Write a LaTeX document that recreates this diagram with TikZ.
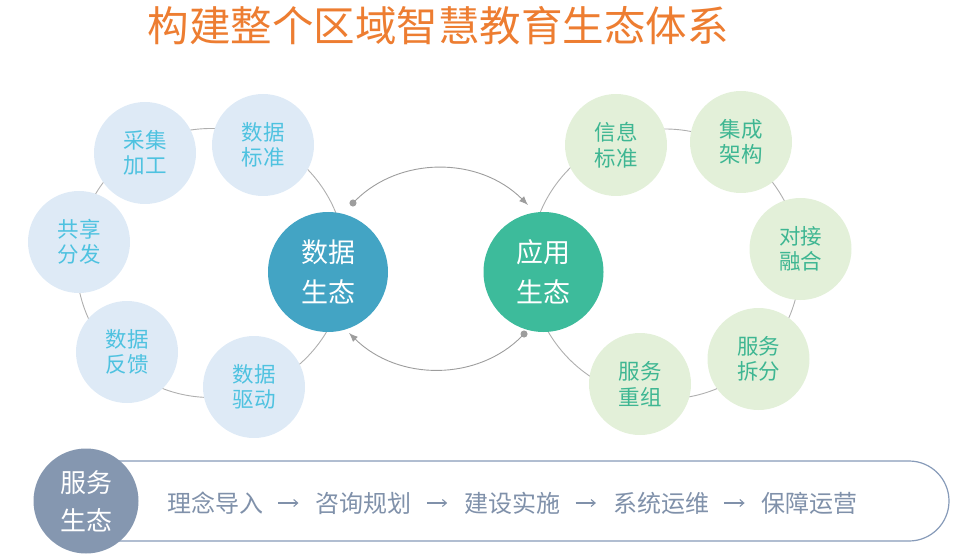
\documentclass[tikz,border=0pt]{standalone}
\usepackage{fontspec}
\setmainfont{Noto Sans CJK SC}
\usetikzlibrary{arrows.meta}

\definecolor{titleorange}{RGB}{237,125,49}
\definecolor{datadark}{RGB}{67,164,196}
\definecolor{datalight}{RGB}{222,234,246}
\definecolor{datatext}{RGB}{78,194,224}
\definecolor{appdark}{RGB}{61,187,155}
\definecolor{applight}{RGB}{227,240,217}
\definecolor{apptext}{RGB}{62,182,146}
\definecolor{servdark}{RGB}{133,151,176}
\definecolor{servline}{RGB}{135,155,185}
\definecolor{servtext}{RGB}{128,145,170}
\definecolor{ringgray}{RGB}{175,175,175}

\tikzset{
  hub/.style={circle, minimum size=120pt, inner sep=0pt, align=center,
    text=white, font=\fontsize{27}{40}\selectfont},
  dataleaf/.style={circle, minimum size=102pt, inner sep=0pt, align=center,
    fill=datalight, text=datatext, font=\fontsize{21.5}{25.5}\selectfont},
  appleaf/.style={circle, minimum size=102pt, inner sep=0pt, align=center,
    fill=applight, text=apptext, font=\fontsize{21.5}{25.5}\selectfont},
  ring/.style={draw=ringgray, line width=0.9pt},
  flow/.style={draw=ringgray!90!black, line width=0.9pt,
    {Circle[length=7pt]}-{Latex[length=9pt,width=7pt]}},
  stepbox/.style={inner sep=0pt, text=servtext, font=\fontsize{24}{28}\selectfont},
  steparrow/.style={draw=servtext, line width=1.1pt, -{Straight Barb[length=4pt,width=7pt]},
    shorten <=15pt, shorten >=17pt}
}

\begin{document}
\begin{tikzpicture}[x=1pt, y=-1pt, >=latex]
        \useasboundingbox (0,0) rectangle (958,556);

        % ==== TITLE ====
        \node[text=titleorange, font=\fontsize{41.5}{48}\selectfont] (title) at (438,26) {构建整个区域智慧教育生态体系};

        % ==== RINGS ====
        \draw[ring] (211,263) circle[radius=134.5];
        \draw[ring] (665,264) circle[radius=135];

        % ==== DATA SIDE ====
        \node[hub, fill=datadark] (data) at (328,272) {数据\\生态};
        \node[dataleaf] (datastd) at (263,145) {数据\\标准};
        \node[dataleaf] (collect) at (145,153) {采集\\加工};
        \node[dataleaf] (share) at (79,242) {共享\\分发};
        \node[dataleaf] (feedback) at (127,352) {数据\\反馈};
        \node[dataleaf] (drive) at (254,387) {数据\\驱动};

        % ==== APPLICATION SIDE ====
        \node[hub, fill=appdark] (app) at (543.5,272) {应用\\生态};
        \node[appleaf] (infostd) at (616,145) {信息\\标准};
        \node[appleaf] (integrate) at (741,142) {集成\\架构};
        \node[appleaf] (dock) at (800.5,249) {对接\\融合};
        \node[appleaf] (split) at (758.5,359) {服务\\拆分};
        \node[appleaf] (regroup) at (640,384) {服务\\重组};

        % ==== EXCHANGE BETWEEN HUBS ====
        \coordinate (upS) at (350.5,205.5);
        \coordinate (upE) at (528,205);
        \coordinate (downS) at (526.5,331.5);
        \coordinate (downE) at (349,333);
        \draw[flow] (upS) to[bend left=45] (upE);
        \draw[flow] (downS) to[bend left=45] (downE);

        % ==== SERVICE BAR ====
        \node[draw=servline, fill=white, line width=1.2pt, rounded corners=40pt,
              minimum width=909pt, minimum height=80pt] (bar) at (494.5,501) {};
        \node[circle, fill=servdark, minimum size=105pt, inner sep=0pt, align=center,
              text=white, font=\fontsize{26}{38}\selectfont] (serv) at (86,501) {服务\\生态};

        \node[stepbox] (step1) at (215,503) {理念导入};
        \node[stepbox] (step2) at (363.7,503) {咨询规划};
        \node[stepbox] (step3) at (512.4,503) {建设实施};
        \node[stepbox] (step4) at (661.1,503) {系统运维};
        \node[stepbox] (step5) at (809.8,503) {保障运营};
        \draw[steparrow] (step1) -- (step2);
        \draw[steparrow] (step2) -- (step3);
        \draw[steparrow] (step3) -- (step4);
        \draw[steparrow] (step4) -- (step5);
\end{tikzpicture}
\end{document}
